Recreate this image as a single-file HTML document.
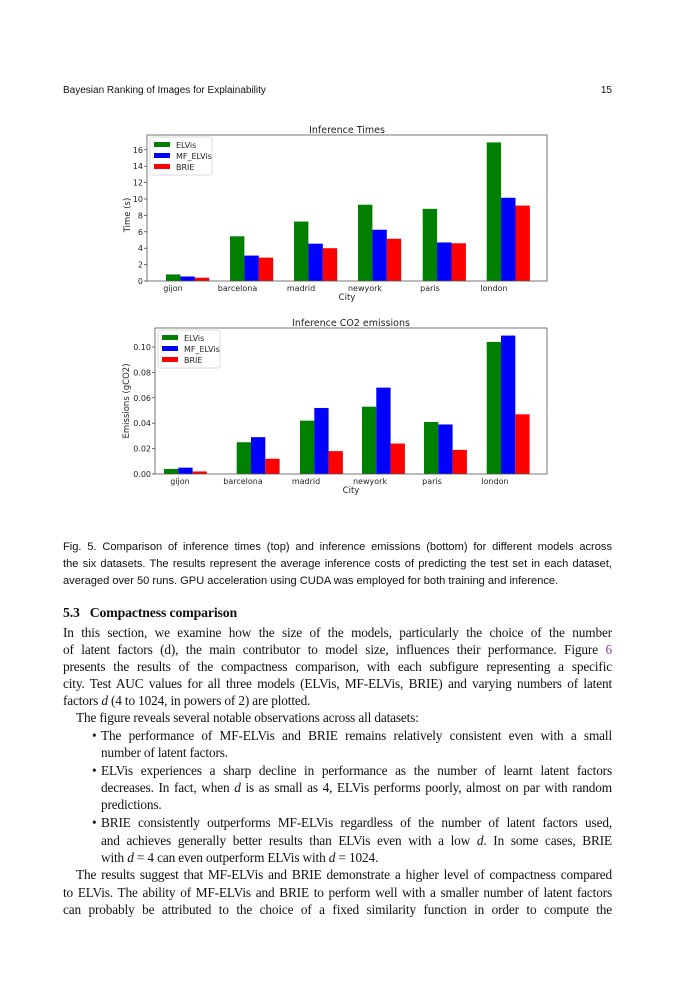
<!DOCTYPE html>
<html><head><meta charset="utf-8"><style>
body{margin:0;background:#fff;}
#pg{position:relative;width:675px;height:1000px;overflow:hidden;background:#fff;}
.l{position:absolute;left:63px;width:549px;font-family:"Liberation Serif",serif;font-size:13.3px;letter-spacing:-0.15px;color:#111;white-space:nowrap;height:18px;overflow:hidden;line-height:18px;}
.j{text-align:justify;text-align-last:justify;white-space:normal;}
.c{font-family:"Liberation Sans",sans-serif;font-size:11.1px;letter-spacing:0;}
svg text{font-family:"DejaVu Sans",sans-serif;fill:#222;}
</style></head><body><div id="pg">
<div class="l c" style="top:82px;font-size:10px;">Bayesian Ranking of Images for Explainability</div>
<div class="l c" style="top:82px;font-size:10px;left:560px;width:52px;text-align:right">15</div>

<svg width="675" height="520" style="position:absolute;left:0;top:0">
<text x="347" y="133" font-size="9.5" text-anchor="middle">Inference Times</text>
<g id="b1"></g>
<g font-size="8" text-anchor="end">
<text x="143" y="284">0</text><text x="143" y="267.6">2</text><text x="143" y="251.2">4</text><text x="143" y="234.8">6</text><text x="143" y="218.4">8</text><text x="143" y="202">10</text><text x="143" y="185.6">12</text><text x="143" y="169.2">14</text><text x="143" y="152.8">16</text>
</g>
<g stroke="#333" stroke-width="0.7">
<line x1="144" y1="281" x2="147" y2="281"/><line x1="144" y1="264.6" x2="147" y2="264.6"/><line x1="144" y1="248.2" x2="147" y2="248.2"/><line x1="144" y1="231.8" x2="147" y2="231.8"/><line x1="144" y1="215.4" x2="147" y2="215.4"/><line x1="144" y1="199" x2="147" y2="199"/><line x1="144" y1="182.6" x2="147" y2="182.6"/><line x1="144" y1="166.2" x2="147" y2="166.2"/><line x1="144" y1="149.8" x2="147" y2="149.8"/>
</g>
<g font-size="8" text-anchor="middle">
<text x="173" y="291">gijon</text><text x="237.5" y="291">barcelona</text><text x="301" y="291">madrid</text><text x="365" y="291">newyork</text><text x="430" y="291">paris</text><text x="494" y="291">london</text>
</g>
<text x="347" y="300" font-size="8.5" text-anchor="middle">City</text>
<text transform="translate(130,215) rotate(-90)" font-size="8.5" text-anchor="middle">Time (s)</text>
<rect x="147" y="135" width="400" height="146" fill="none" stroke="#555" stroke-width="0.8"/>
<rect x="150" y="137" width="62" height="38" fill="#fff" stroke="#ccc" stroke-width="0.7" rx="2"/>
<rect x="154" y="142" width="16" height="5" fill="#008000"/><rect x="154" y="153" width="16" height="5" fill="#0000ff"/><rect x="154" y="164" width="16" height="5" fill="#ff0000"/>
<g font-size="8"><text x="176" y="148">ELVis</text><text x="176" y="159">MF_ELVis</text><text x="176" y="170">BRIE</text></g>

<text x="351" y="326" font-size="9.5" text-anchor="middle">Inference CO2 emissions</text>
<g id="b2"></g>
<g font-size="8" text-anchor="end">
<text x="151" y="477">0.00</text><text x="151" y="451.6">0.02</text><text x="151" y="426.2">0.04</text><text x="151" y="400.8">0.06</text><text x="151" y="375.4">0.08</text><text x="151" y="350">0.10</text>
</g>
<g stroke="#333" stroke-width="0.7">
<line x1="152" y1="474" x2="155" y2="474"/><line x1="152" y1="448.6" x2="155" y2="448.6"/><line x1="152" y1="423.2" x2="155" y2="423.2"/><line x1="152" y1="397.8" x2="155" y2="397.8"/><line x1="152" y1="372.4" x2="155" y2="372.4"/><line x1="152" y1="347" x2="155" y2="347"/>
</g>
<g font-size="8" text-anchor="middle">
<text x="180" y="484">gijon</text><text x="243" y="484">barcelona</text><text x="306" y="484">madrid</text><text x="370" y="484">newyork</text><text x="432" y="484">paris</text><text x="495" y="484">london</text>
</g>
<text x="351" y="493" font-size="8.5" text-anchor="middle">City</text>
<text transform="translate(129,401) rotate(-90)" font-size="8.5" text-anchor="middle">Emissions (gCO2)</text>
<rect x="155" y="328" width="392" height="146" fill="none" stroke="#555" stroke-width="0.8"/>
<rect x="158" y="330" width="62" height="38" fill="#fff" stroke="#ccc" stroke-width="0.7" rx="2"/>
<rect x="162" y="335" width="16" height="5" fill="#008000"/><rect x="162" y="346" width="16" height="5" fill="#0000ff"/><rect x="162" y="357" width="16" height="5" fill="#ff0000"/>
<g font-size="8"><text x="184" y="341">ELVis</text><text x="184" y="352">MF_ELVis</text><text x="184" y="363">BRIE</text></g>
</svg>
<script>
(function(){
var ns="http://www.w3.org/2000/svg",cols=["#008000","#0000ff","#ff0000"];
function draw(id,starts,w,y0,sc,data){var g=document.getElementById(id);
for(var i=0;i<6;i++)for(var k=0;k<3;k++){var r=document.createElementNS(ns,"rect");var h=data[i][k]*sc;
r.setAttribute("x",starts[i]+k*w);r.setAttribute("y",y0-h);r.setAttribute("width",w);r.setAttribute("height",h);r.setAttribute("fill",cols[k]);g.appendChild(r);}}
draw("b1",[166,230,294,358,422.7,486.7],14.4,281,8.2,[[.8,.55,.4],[5.45,3.1,2.85],[7.25,4.55,4.0],[9.3,6.25,5.15],[8.8,4.7,4.6],[16.9,10.15,9.2]]);
draw("b2",[164,236.7,300,362,424,486.7],14.3,474,1270,[[.004,.005,.002],[.025,.029,.012],[.042,.052,.018],[.053,.068,.024],[.041,.039,.019],[.104,.109,.047]]);
})();
</script>

<div class="l c j" style="top:538px;">Fig. 5. Comparison of inference times (top) and inference emissions (bottom) for different models across</div>
<div class="l c j" style="top:555px;">the six datasets. The results represent the average inference costs of predicting the test set in each dataset,</div>
<div class="l c" style="top:572px;">averaged over 50 runs. GPU acceleration using CUDA was employed for both training and inference.</div>

<div class="l" style="top:604px;font-weight:bold;font-size:13.8px;">5.3&nbsp;&nbsp;&nbsp;Compactness comparison</div>
<div class="l j" style="top:624px;">In this section, we examine how the size of the models, particularly the choice of the number</div>
<div class="l j" style="top:641px;">of latent factors (d), the main contributor to model size, influences their performance. Figure <span style="color:#8b3a9e">6</span></div>
<div class="l j" style="top:658px;">presents the results of the compactness comparison, with each subfigure representing a specific</div>
<div class="l j" style="top:675px;">city. Test AUC values for all three models (ELVis, MF-ELVis, BRIE) and varying numbers of latent</div>
<div class="l" style="top:692px;">factors <i>d</i> (4 to 1024, in powers of 2) are plotted.</div>
<div class="l" style="top:709px;left:76px;">The figure reveals several notable observations across all datasets:</div>

<div class="l" style="top:727px;left:92px;width:8px;">•</div>
<div class="l j" style="top:727px;left:101px;width:511px;">The performance of MF-ELVis and BRIE remains relatively consistent even with a small</div>
<div class="l" style="top:744px;left:101px;">number of latent factors.</div>
<div class="l" style="top:762px;left:92px;width:8px;">•</div>
<div class="l j" style="top:762px;left:101px;width:511px;">ELVis experiences a sharp decline in performance as the number of learnt latent factors</div>
<div class="l j" style="top:779px;left:101px;width:511px;">decreases. In fact, when <i>d</i> is as small as 4, ELVis performs poorly, almost on par with random</div>
<div class="l" style="top:796px;left:101px;">predictions.</div>
<div class="l" style="top:814px;left:92px;width:8px;">•</div>
<div class="l j" style="top:814px;left:101px;width:511px;">BRIE consistently outperforms MF-ELVis regardless of the number of latent factors used,</div>
<div class="l j" style="top:832px;left:101px;width:511px;">and achieves generally better results than ELVis even with a low <i>d</i>. In some cases, BRIE</div>
<div class="l" style="top:849px;left:101px;">with <i>d</i> = 4 can even outperform ELVis with <i>d</i> = 1024.</div>
<div class="l j" style="top:866px;left:76px;width:536px;">The results suggest that MF-ELVis and BRIE demonstrate a higher level of compactness compared</div>
<div class="l j" style="top:884px;">to ELVis. The ability of MF-ELVis and BRIE to perform well with a smaller number of latent factors</div>
<div class="l j" style="top:901px;">can probably be attributed to the choice of a fixed similarity function in order to compute the</div>
</div></body></html>
